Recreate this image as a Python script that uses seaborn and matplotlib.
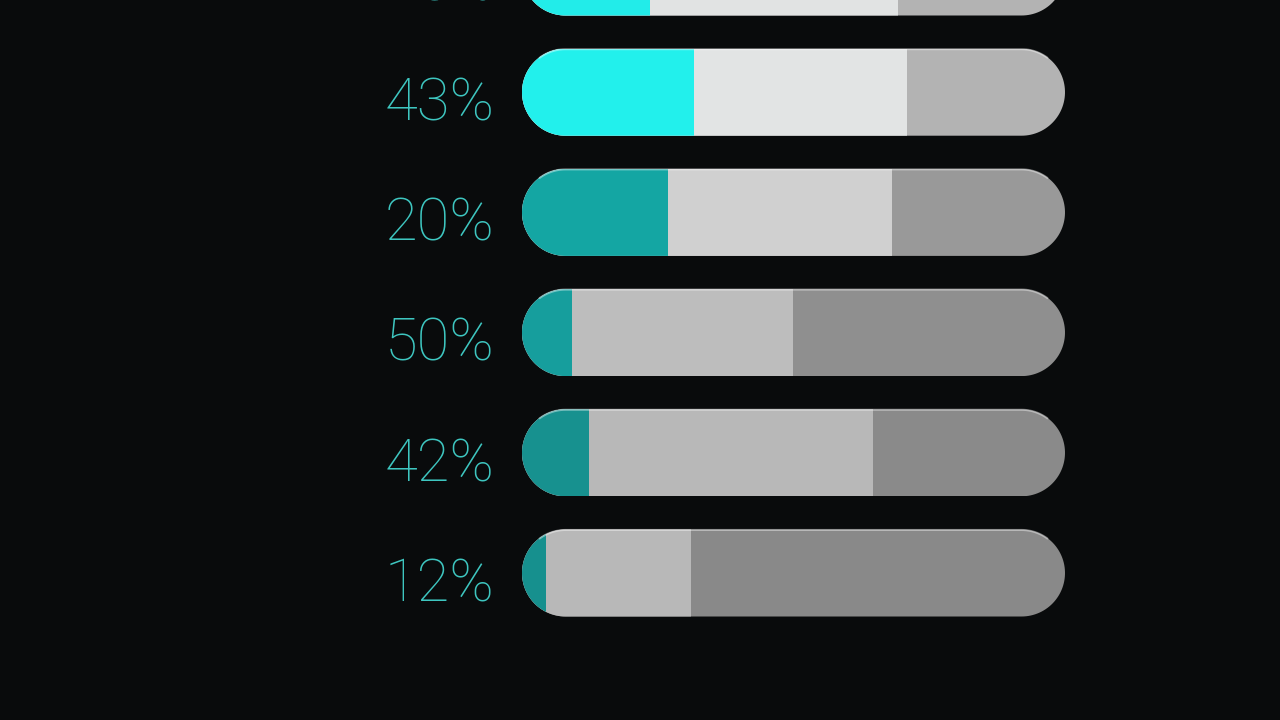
import numpy as np
import pandas as pd
import matplotlib
matplotlib.use("Agg")
import matplotlib.pyplot as plt
from matplotlib.patches import Polygon
import seaborn as sns

# values (each bar sums to 100)
labels = ["45%", "43%", "20%", "50%", "42%", "12%"]
part_a = [23.6, 31.7, 26.9, 9.2, 12.3, 4.4]
part_b = [45.7, 39.2, 41.3, 40.7, 52.4, 26.7]
part_c = [30.7, 29.1, 31.8, 50.1, 35.3, 68.9]

teal_cols = ["#22ECE9", "#22F0EC", "#14A6A3", "#169E9D", "#17918F", "#16908E"]
light_cols = ["#E1E3E3", "#E2E4E4", "#D0D0D0", "#BDBDBD", "#B8B8B8", "#B8B8B8"]
grey_cols = ["#B3B3B3", "#B3B3B3", "#999999", "#8F8F8F", "#8A8A8A", "#898989"]
label_col = "#3EC6C0"
bg = "#090B0C"

df = pd.DataFrame({"label": labels, "a": part_a, "b": part_b, "c": part_c})
df["ab"] = df["a"] + df["b"]
df["abc"] = df["ab"] + df["c"]

sns.set_theme(style="dark")
plt.rcParams["font.family"] = ["Roboto", "DejaVu Sans"]

fig = plt.figure(figsize=(12.8, 7.2), dpi=100, facecolor=bg)
ax = fig.add_axes([522 / 1280, 0, 543 / 1280, 1])
ax.set_facecolor(bg)

bar_h = 0.724
layers = [("abc", grey_cols), ("ab", light_cols), ("a", teal_cols)]
for col, cols in layers:
    sns.barplot(data=df, x=col, y="label", hue="label", order=labels,
                palette=dict(zip(labels, cols)), orient="h", width=bar_h,
                legend=False, saturation=1, ax=ax, linewidth=0)

ax.set_xlim(0, 100)
ax.set_ylim(6.223, 0.233)
ax.axis("off")

# pill outline: semicircle ends measured in pixels
p0 = ax.transData.transform((0, 0))
px_x = ax.transData.transform((1, 0))[0] - p0[0]
px_y = abs(ax.transData.transform((0, 1))[1] - p0[1])
ry = bar_h / 2
rx = ry * px_y / px_x
t = np.linspace(np.pi / 2, 3 * np.pi / 2, 60)


def pill_xy(yc, total):
    left = np.column_stack([rx + rx * np.cos(t), yc + ry * np.sin(t)])
    right = np.column_stack([total - rx - rx * np.cos(t), yc - ry * np.sin(t)])
    return np.vstack([left, right])


bars = [b for b in ax.patches]
pills = []
for i in range(len(labels)):
    xy = pill_xy(i, df["abc"][i])
    pill = Polygon(xy, closed=True, facecolor="none", edgecolor="none",
                   transform=ax.transData)
    ax.add_patch(pill)
    pills.append(pill)
    # light bevel along the top edge
    top = xy[xy[:, 1] <= i - ry * 0.8]
    top = top[np.argsort(top[:, 0])]
    ax.plot(top[:, 0], top[:, 1] + 0.004, color="white", alpha=0.4, lw=1.5,
            solid_capstyle="round", zorder=5)

for bar in bars:
    yc = bar.get_y() + bar.get_height() / 2
    bar.set_clip_path(pills[int(round(yc))])

for i, lab in enumerate(labels):
    ax.text(-5.0, i + 0.1, lab, ha="right", va="center", fontsize=43,
            fontweight="light", color=label_col, clip_on=False)

fig.savefig("out.png", dpi=100, facecolor=bg)
